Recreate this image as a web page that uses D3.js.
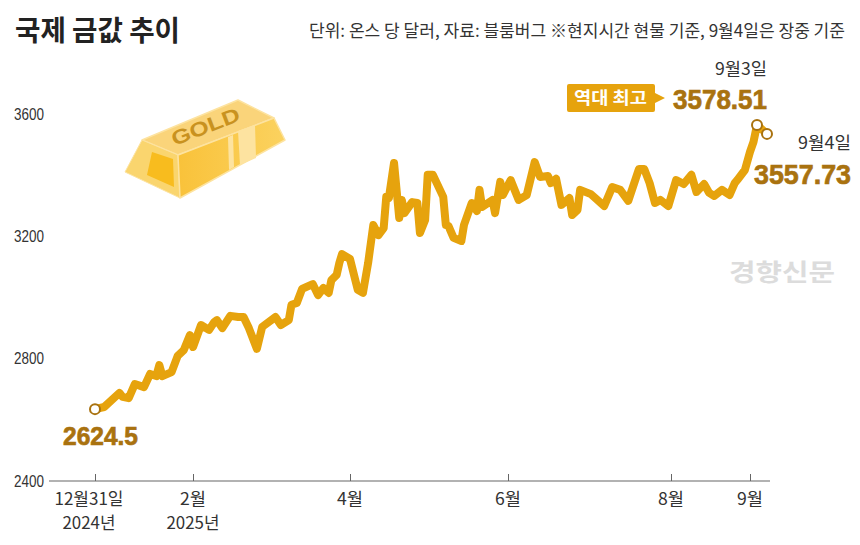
<!DOCTYPE html>
<html>
<head>
<meta charset="utf-8">
<script src="https://cdn.jsdelivr.net/npm/d3@7"></script>
<style>
  body { margin: 0; background: #fff; }
  text { font-family: "Noto Sans CJK KR", "Liberation Sans Narrow", sans-serif; }
  .num { font-family: "Liberation Sans", sans-serif; }
  .tick text { font-family: "Liberation Sans", sans-serif; }
</style>
</head>
<body>
<svg id="chart"></svg>
<script>
const dates = ["2024-12-31","2025-01-03","2025-01-08","2025-01-09","2025-01-11","2025-01-13","2025-01-16","2025-01-18","2025-01-20","2025-01-21","2025-01-22","2025-01-25","2025-01-27","2025-01-29","2025-01-31",
  "2025-02-01","2025-02-04","2025-02-07","2025-02-09","2025-02-10","2025-02-12","2025-02-15","2025-02-18","2025-02-20","2025-02-22","2025-02-25","2025-02-27",
  "2025-03-04","2025-03-06","2025-03-09","2025-03-10","2025-03-12","2025-03-14","2025-03-18","2025-03-20","2025-03-22","2025-03-24","2025-03-25","2025-03-27","2025-03-28","2025-03-29",
  "2025-04-01","2025-04-04","2025-04-06","2025-04-08","2025-04-10","2025-04-12","2025-04-14","2025-04-15","2025-04-16","2025-04-18","2025-04-20","2025-04-21","2025-04-22","2025-04-25","2025-04-27","2025-04-28","2025-04-30",
  "2025-05-01","2025-05-03","2025-05-07","2025-05-08","2025-05-09","2025-05-11","2025-05-14","2025-05-15","2025-05-18","2025-05-20","2025-05-21","2025-05-22","2025-05-26","2025-05-27","2025-05-29","2025-05-30",
  "2025-06-02","2025-06-05","2025-06-08","2025-06-11","2025-06-13","2025-06-16","2025-06-17","2025-06-19","2025-06-21","2025-06-24","2025-06-25","2025-06-27","2025-06-28",
  "2025-07-02","2025-07-07","2025-07-10","2025-07-13","2025-07-16","2025-07-20","2025-07-22","2025-07-24","2025-07-26","2025-07-28","2025-07-31",
  "2025-08-03","2025-08-06","2025-08-09","2025-08-11","2025-08-14","2025-08-16","2025-08-18","2025-08-21","2025-08-24","2025-08-26","2025-08-27","2025-08-30",
  "2025-09-01","2025-09-02","2025-09-03","2025-09-04"];
const prices = [2635,2642,2688,2675,2671,2717,2707,2750,2743,2779,2743,2756,2809,2828,2877,
  2838,2910,2894,2920,2926,2900,2940,2936,2936,2900,2832,2904,
  2936,2910,2926,2976,2982,3028,3044,3008,3031,3015,3057,3074,3113,3142,
  3126,3025,3015,3113,3237,3204,3227,3329,3325,3440,3260,3319,3276,3312,3309,3211,3253,
  3401,3401,3329,3237,3234,3195,3185,3237,3309,3283,3352,3296,3319,3276,3378,3335,
  3384,3319,3335,3443,3394,3397,3374,3388,3303,3325,3270,3286,3352,
  3338,3299,3361,3352,3316,3420,3420,3374,3309,3319,3299,
  3384,3371,3401,3345,3371,3342,3332,3352,3335,3374,3384,3417,
  3476,3509,3564,3535];

const yTicks = [2400,2800,3200,3600];
const xTickDates = ["2024-12-31","2025-02-01","2025-04-01","2025-06-01","2025-08-01","2025-09-01"];
const xTickLabels = [["12월31일","2024년"],["2월","2025년"],["4월"],["6월"],["8월"],["9월"]];

const parse = d3.utcParse("%Y-%m-%d");
const gold = "#e6a30d", brown = "#a9720f", ink = "#333";

const svg = d3.select("#chart").attr("width", 860).attr("height", 545);

// the x axis of the original is not linear in calendar days, so the scale is piecewise
const x = d3.scaleUtc()
  .domain([...xTickDates, "2025-09-03", "2025-09-04"].map(parse))
  .range([95,193,350,508,671,750,757,767]);
const y = d3.scaleLinear().domain([2400,3600]).range([481,114]);

function label(tx, ty, str, size, len, opts = {}) {
  return svg.append("text")
    .attr("class", opts.cls || null)
    .attr("x", tx).attr("y", ty)
    .attr("font-size", size)
    .attr("font-weight", opts.weight || 400)
    .attr("fill", opts.fill || ink)
    .attr("text-anchor", opts.anchor || "start")
    .attr("textLength", len)
    .attr("lengthAdjust", "spacingAndGlyphs")
    .text(str);
}

// heavy condensed figures, as in the value labels of the original
function bigNumber(tx, ty, str, size, len) {
  return label(tx, ty, str, size, len, { weight: 700, fill: brown, cls: "num" })
    .attr("stroke", brown).attr("stroke-width", 0.7);
}

label(15, 41, "국제 금값 추이", 28, 165, { weight: 700, fill: "#222" });
label(309, 37, "단위: 온스 당 달러, 자료: 블룸버그 ※현지시간 현물 기준, 9월4일은 장중 기준", 17, 536);

// gold bar illustration
const barDefs = svg.append("defs");
const grad = barDefs.append("linearGradient").attr("id", "barFront").attr("x1", 0).attr("x2", 1).attr("y1", 0).attr("y2", 0);
grad.append("stop").attr("offset", 0).attr("stop-color", "#f9c23a");
grad.append("stop").attr("offset", 1).attr("stop-color", "#fbd25f");
const bar = svg.append("g");
bar.append("polygon").attr("points", "142,140 238,100 274,118 178,155").attr("fill", "#fad47a").attr("stroke", "#fde3a0").attr("stroke-width", 1.5).attr("stroke-linejoin", "round");
bar.append("polygon").attr("points", "142,140 178,155 180,198 125,172").attr("fill", "#fad56e").attr("stroke", "#fde3a0").attr("stroke-width", 1).attr("stroke-linejoin", "round");
bar.append("polygon").attr("points", "152,152 173,159 174,187 147,175").attr("fill", "#f8bc1e");
bar.append("polygon").attr("points", "178,155 274,118 285,140 180,198").attr("fill", "url(#barFront)").attr("stroke", "#fde3a0").attr("stroke-width", 1.5).attr("stroke-linejoin", "round");
bar.append("polygon").attr("points", "228,137 233,135 234,167 229,170").attr("fill", "#fde3a0");
bar.append("polygon").attr("points", "238,131 255,125 256,158 240,165").attr("fill", "#fde3a0");
bar.append("text").attr("class", "num").attr("transform", "translate(208,133) rotate(-21)")
  .attr("text-anchor", "middle").attr("font-size", 20).attr("font-weight", 700).attr("fill", "#c9921f")
  .attr("textLength", 72).attr("lengthAdjust", "spacingAndGlyphs").text("GOLD");

// watermark
label(729, 281, "경향신문", 24, 106, { weight: 700, fill: "#dcdcdc" });

// axes
const yAxis = svg.append("g").attr("transform", "translate(44,0)")
  .call(d3.axisLeft(y).tickValues(yTicks).tickSize(0).tickPadding(0).tickFormat(d3.format("d")));
yAxis.select(".domain").remove();
yAxis.selectAll("text").attr("font-size", 16).attr("fill", ink)
  .attr("textLength", 30).attr("lengthAdjust", "spacingAndGlyphs");

svg.append("line").attr("x1", 49).attr("x2", 770).attr("y1", 481).attr("y2", 481)
  .attr("stroke", "#666").attr("stroke-width", 1.2);

const xAxis = svg.append("g").attr("transform", "translate(0,481)")
  .call(d3.axisBottom(x).tickValues(xTickDates.map(parse)).tickSize(-7).tickFormat(""));
xAxis.select(".domain").remove();
xAxis.selectAll("line").attr("stroke", "#666");

xTickDates.forEach((d, i) => {
  const cx = x(parse(d)) - (i === 0 ? 6 : 0);
  xTickLabels[i].forEach((t, k) => {
    const len = k === 1 ? 53 : (i === 0 ? 69 : 26);
    label(cx, 505 + k * 24, t, 17, len, { anchor: "middle" });
  });
});

// price line
const series = dates.map((d, i) => ({ date: parse(d), price: prices[i] }));
const line = d3.line().x(d => x(d.date)).y(d => y(d.price));

svg.append("path").datum(series)
  .attr("d", line)
  .attr("fill", "none")
  .attr("stroke", gold)
  .attr("stroke-width", 8)
  .attr("stroke-linejoin", "round")
  .attr("stroke-linecap", "round");

// first point and the last two
const marked = [series[0], series[series.length - 2], series[series.length - 1]];
svg.selectAll(".marker").data(marked).enter().append("circle")
  .attr("class", "marker")
  .attr("cx", d => x(d.date)).attr("cy", d => y(d.price))
  .attr("r", 5)
  .attr("fill", "#fff")
  .attr("stroke", brown)
  .attr("stroke-width", 2);

// value labels
bigNumber(63, 445, "2624.5", 26, 75);
label(715, 75, "9월3일", 17, 52);
bigNumber(673, 109, "3578.51", 28, 94);
label(798, 149, "9월4일", 17, 53);
bigNumber(754, 184, "3557.73", 28, 97);

// callout
svg.append("path").attr("d", "M569,84H653a2,2 0 0 1 2,2V93L665,98L655,103V110a2,2 0 0 1 -2,2H569a2,2 0 0 1 -2,-2V86a2,2 0 0 1 2,-2Z")
  .attr("fill", gold);
label(574, 104, "역대 최고", 17, 73, { weight: 700, fill: "#fff" });
</script>
</body>
</html>
